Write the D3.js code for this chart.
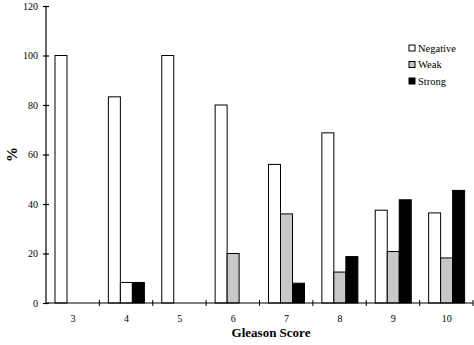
<!DOCTYPE html>
<html>
<head>
<meta charset="utf-8">
<script src="https://cdn.jsdelivr.net/npm/d3@7"></script>
<style>
  html, body { margin: 0; padding: 0; background: #fff; }
</style>
</head>
<body>
<svg id="chart" width="474" height="345"></svg>
<script>
// Gleason score categories and the percentage of cases per staining class
const categories = ["3", "4", "5", "6", "7", "8", "9", "10"];
const negative = [100, 83.3, 100, 80, 56, 68.75, 37.5, 36.4];
const weak     = [0, 8.3, 0, 20, 36, 12.5, 20.8, 18.2];
const strong   = [0, 8.3, 0, 0, 8, 18.75, 41.7, 45.5];
const seriesNames = ["Negative", "Weak", "Strong"];
const yTicks = [0, 20, 40, 60, 80, 100, 120];

const fills = { Negative: "#ffffff", Weak: "#c8c8c8", Strong: "#000000" };
// the weak bar at score 4 is printed unshaded
const unshaded = [{ category: "4", series: "Weak" }];

const FONT = '"Liberation Serif"';
const svg = d3.select("#chart");
const margin = { left: 46, right: 1, top: 6, bottom: 42 };
const W = 474, H = 345;
const plotBottom = H - margin.bottom;

const x = d3.scaleBand().domain(categories).range([margin.left, W - margin.right]).paddingInner(0).paddingOuter(0);
// each group of three bars sits slightly left of centre inside its band
const inner = d3.scaleBand().domain(seriesNames).range([9, 45]).paddingInner(0).paddingOuter(0);
const y = d3.scaleLinear().domain([0, 120]).range([plotBottom, margin.top]);

const values = { Negative: negative, Weak: weak, Strong: strong };
const rows = [];
categories.forEach((c, i) => {
  seriesNames.forEach(s => {
    const v = values[s][i];
    if (v > 0) rows.push({ category: c, series: s, value: v });
  });
});

svg.append("g").selectAll("rect").data(rows).join("rect")
  .attr("x", d => x(d.category) + inner(d.series))
  .attr("y", d => y(d.value))
  .attr("width", inner.bandwidth())
  .attr("height", d => y(0) - y(d.value))
  .attr("fill", d => unshaded.some(u => u.category === d.category && u.series === d.series) ? "#ffffff" : fills[d.series])
  .attr("stroke", "#000")
  .attr("stroke-width", 1);

// y axis with ticks crossing the line
const yAxis = svg.append("g").attr("transform", `translate(${margin.left},0)`)
  .call(d3.axisLeft(y).tickValues(yTicks).tickSize(3).tickPadding(5));
yAxis.attr("font-family", null);
yAxis.selectAll(".tick line").attr("x2", -3).attr("x1", 3);
yAxis.selectAll("text").attr("font-size", 10).attr("fill", "#000").style("font-family", FONT);
yAxis.select(".domain").attr("d", `M0,${y(0)}V${y(120)}`);
yAxis.selectAll("line, path").attr("stroke", "#000").attr("stroke-width", 1.2);

// x axis: ticks at category boundaries, labels under each group
const xg = svg.append("g").attr("transform", `translate(0,${plotBottom})`);
xg.append("line").attr("x1", margin.left).attr("x2", W - margin.right)
  .attr("stroke", "#000").attr("stroke-width", 1.2);
const boundaries = categories.map(c => x(c) + x.bandwidth());
xg.selectAll("line.tk").data(boundaries).join("line").attr("class", "tk")
  .attr("x1", d => d).attr("x2", d => d).attr("y1", -3).attr("y2", 3)
  .attr("stroke", "#000").attr("stroke-width", 1);
xg.selectAll("text").data(categories).join("text")
  .attr("x", d => x(d) + inner(seriesNames[1]) + inner.bandwidth() / 2)
  .attr("y", 19)
  .attr("text-anchor", "middle")
  .attr("font-size", 10)
  .style("font-family", FONT)
  .text(d => d);

// axis titles
svg.append("text")
  .attr("x", 271).attr("y", 337)
  .attr("text-anchor", "middle")
  .attr("font-weight", "bold").attr("font-size", 13)
  .style("font-family", FONT)
  .text("Gleason Score");
svg.append("text")
  .attr("transform", `translate(17,${y(60)}) rotate(-90)`)
  .attr("text-anchor", "middle")
  .attr("font-weight", "bold").attr("font-size", 15)
  .style("font-family", FONT)
  .text("%");

// legend
const legend = svg.append("g").attr("transform", "translate(412,48)");
seriesNames.forEach((s, i) => {
  const g = legend.append("g").attr("transform", `translate(0,${i * 16.5})`);
  g.append("rect").attr("x", -3).attr("y", -3).attr("width", 6).attr("height", 6)
    .attr("fill", fills[s]).attr("stroke", "#000").attr("stroke-width", 1);
  g.append("text").attr("x", 6).attr("y", 3.5).attr("font-size", 10.5)
    .style("font-family", FONT).text(s);
});
</script>
</body>
</html>
